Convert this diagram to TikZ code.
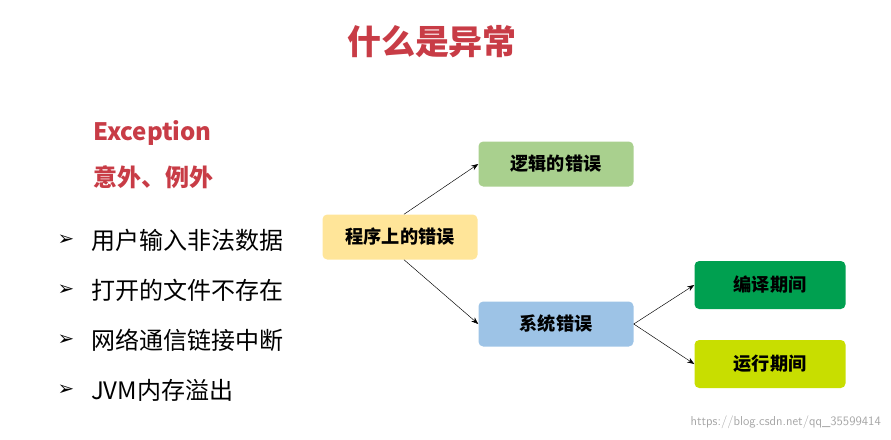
\documentclass[tikz,border=0pt]{standalone}
\usepackage{fontspec}
\setmainfont{Noto Sans CJK SC}
\newfontfamily\symfont{DejaVu Sans}
\usetikzlibrary{arrows.meta,positioning}
\definecolor{titlered}{RGB}{200,60,70}
\definecolor{progfill}{RGB}{255,229,153}
\definecolor{logicfill}{RGB}{169,208,142}
\definecolor{sysfill}{RGB}{157,195,230}
\definecolor{compfill}{RGB}{0,160,80}
\definecolor{runfill}{RGB}{200,222,0}
\tikzset{
  errbox/.style={rounded corners=4pt,minimum width=155\pxu,minimum height=45\pxu,font=\fontsize{15.5}{18}\selectfont\bfseries},
  item/.style={anchor=west,font=\fontsize{20.5}{24}\selectfont},
  arr/.style={-{Stealth[length=6pt]},thin}
}
\newlength\pxu \setlength\pxu{0.03cm}
\begin{document}
\begin{tikzpicture}[x=0.03cm,y=-0.03cm]
    \useasboundingbox (0,0) rectangle (891,439);
    % Title
    \node[titlered,font=\fontsize{29}{33}\selectfont\bfseries] (title) at (432,42) {什么是异常};
    \node[titlered,font=\fontsize{20.5}{24}\selectfont\bfseries,anchor=west] (exc) at (89,133) {Exception};
    \node[titlered,font=\fontsize{20.5}{24}\selectfont\bfseries,anchor=west] (meaning) at (89,177) {意外、例外};
    % Bullets
    \foreach \t [count=\i] in {用户输入非法数据,打开的文件不存在,网络通信链接中断,JVM内存溢出}{
        \node[font=\symfont\fontsize{17}{20}\selectfont] (b\i) at (66,{190+50*\i}) {➢};
        \node[item] (t\i) at (87,{190+50*\i}) {\t};
    }
    % Boxes
    \node[errbox,fill=progfill] (prog) at (400,237) {程序上的错误};
    \node[errbox,fill=logicfill] (logic) at (556,164) {逻辑的错误};
    \node[errbox,fill=sysfill] (sys) at (556,324) {系统错误};
    \node[errbox,fill=compfill,minimum width=151\pxu,minimum height=48\pxu] (comp) at (770,285) {编译期间};
    \node[errbox,fill=runfill,minimum width=151\pxu,minimum height=48\pxu] (run) at (770,364) {运行期间};
    % Arrows
    \draw[arr] (prog.north) ++(4\pxu,0) -- (logic.west);
    \draw[arr] (prog.south) ++(4\pxu,0) -- (sys.west);
    \draw[arr] (sys.east) -- (comp.west);
    \draw[arr] (sys.east) -- (run.west);
    % Watermark
    \node[gray!70,font=\sffamily\fontsize{11}{13}\selectfont,anchor=east] (mark) at (885,422) {https://blog.csdn.net/qq\_35599414};
\end{tikzpicture}
\end{document}
